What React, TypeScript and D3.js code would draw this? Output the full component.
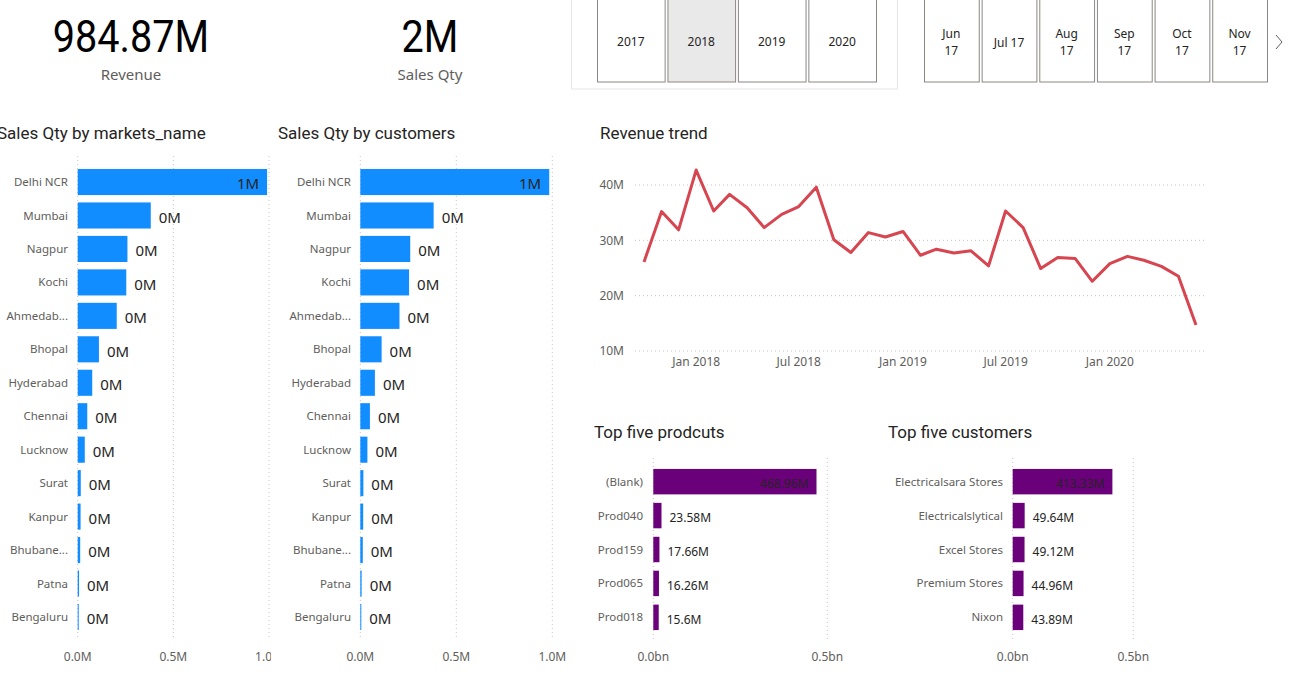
import * as d3 from "d3";

// ---- data ----
const totalRevenueM = 984.87;
const totalSalesQtyM = 2;

const years = ["2017", "2018", "2019", "2020"];
const selectedYear = "2018";
const monthSlicer = [["Jun", "17"], ["Jul 17"], ["Aug", "17"], ["Sep", "17"], ["Oct", "17"], ["Nov", "17"]];

const marketNames = [
  "Delhi NCR", "Mumbai", "Nagpur", "Kochi", "Ahmedab...", "Bhopal", "Hyderabad",
  "Chennai", "Lucknow", "Surat", "Kanpur", "Bhubane...", "Patna", "Bengaluru",
];
// sales qty, millions
const marketQty = [0.99, 0.382, 0.26, 0.254, 0.204, 0.111, 0.076, 0.05, 0.037, 0.016, 0.015, 0.013, 0.007, 0.005];
const customerChartQty = [0.984, 0.382, 0.26, 0.254, 0.204, 0.111, 0.076, 0.05, 0.037, 0.016, 0.015, 0.013, 0.007, 0.005];

const trendStart = new Date(2017, 9, 1);
// revenue per month from Oct 2017, millions
const monthlyRevenue = [
  26.1, 35.2, 31.9, 42.7, 35.3, 38.3, 35.9, 32.3, 34.7, 36.1, 39.6, 30.1, 27.8,
  31.4, 30.6, 31.6, 27.3, 28.4, 27.7, 28.1, 25.4, 35.3, 32.3, 24.9, 26.9, 26.7,
  22.6, 25.8, 27.1, 26.4, 25.3, 23.5, 14.7,
];
const revenueTicks = [10, 20, 30, 40];

const productNames = ["(Blank)", "Prod040", "Prod159", "Prod065", "Prod018"];
const productRevenue = [468.96, 23.58, 17.66, 16.26, 15.6];
const customerNames = ["Electricalsara Stores", "Electricalslytical", "Excel Stores", "Premium Stores", "Nixon"];
const customerRevenue = [413.33, 49.64, 49.12, 44.96, 43.89];

const LABEL_FONT = "'Segoe UI', 'Noto Sans', 'Open Sans', sans-serif";
const TITLE_FONT = "'DIN', Roboto, 'DejaVu Sans', sans-serif";
const KPI_FONT = "'DIN', Roboto, sans-serif";
const GREY = "#605E5C";
const DARK = "#252423";
const GRID = "#C8C6C4";

interface BarPanelProps {
  id: string;
  title: string;
  titleX: number;
  titleY: number;
  names: string[];
  values: number[];
  xStart: number;
  xEnd: number;
  maxValue: number;
  ticks: number[];
  tickFormat: (v: number) => string;
  valueFormat: (v: number) => string;
  color: string;
  bandTop: number;
  bandBottom: number;
  padding: number;
  gridTop: number;
  gridBottom: number;
  labelRight: number;
  valueFontSize: number;
  clipRight?: number;
}

function BarPanel(p: BarPanelProps) {
  const x = d3.scaleLinear().domain([0, p.maxValue]).range([p.xStart, p.xEnd]);
  const y = d3
    .scaleBand<string>()
    .domain(p.names)
    .range([p.bandTop, p.bandBottom])
    .paddingInner(p.padding)
    .paddingOuter(p.padding / 2);
  const clipId = `clip-${p.id}`;

  return (
    <g clipPath={p.clipRight ? `url(#${clipId})` : undefined}>
      {p.clipRight ? (
        <defs>
          <clipPath id={clipId}>
            <rect x={-20} y={100} width={p.clipRight + 20} height={600} />
          </clipPath>
        </defs>
      ) : null}
      <text x={p.titleX} y={p.titleY} fontFamily={TITLE_FONT} fontSize={17} fill={DARK}>
        {p.title}
      </text>
      {p.ticks.map((t) => (
        <g key={t}>
          <line
            x1={x(t)}
            x2={x(t)}
            y1={p.gridTop}
            y2={p.gridBottom}
            stroke={GRID}
            strokeDasharray="1,3"
          />
          <text x={x(t)} y={661} textAnchor="middle" fontFamily={LABEL_FONT} fontSize={12} fill={GREY}>
            {p.tickFormat(t)}
          </text>
        </g>
      ))}
      {p.names.map((name, i) => {
        const v = p.values[i];
        const y0 = y(name) ?? 0;
        const cy = y0 + y.bandwidth() / 2;
        const inside = v > p.maxValue * 0.8;
        return (
          <g key={name}>
            <text
              x={p.labelRight}
              y={cy}
              dy="0.35em"
              textAnchor="end"
              fontFamily={LABEL_FONT}
              fontSize={11.5}
              fill={GREY}
            >
              {name}
            </text>
            <rect x={x(0)} y={y0} width={Math.max(1, x(v) - x(0))} height={y.bandwidth()} fill={p.color} />
            <text
              x={inside ? x(v) - 8 : x(v) + 8}
              y={cy + 2}
              dy="0.35em"
              textAnchor={inside ? "end" : "start"}
              fontFamily={LABEL_FONT}
              fontSize={p.valueFontSize}
              fill={DARK}
            >
              {p.valueFormat(v)}
            </text>
          </g>
        );
      })}
    </g>
  );
}

function RevenueTrend() {
  const dates = monthlyRevenue.map((_, i) => d3.timeMonth.offset(trendStart, i));
  const x = d3.scaleTime().domain([dates[0], dates[dates.length - 1]]).range([644, 1196]);
  const y = d3.scaleLinear().domain([10, 40]).range([351, 185]);
  const line = d3
    .line<number>()
    .x((_, i) => x(dates[i]))
    .y((v) => y(v));
  const xTicks = d3.timeMonth.every(6)!.range(new Date(2018, 0, 1), dates[dates.length - 1]);
  const fmt = d3.timeFormat("%b %Y");

  return (
    <g>
      <text x={600} y={139} fontFamily={TITLE_FONT} fontSize={17} fill={DARK}>
        Revenue trend
      </text>
      {revenueTicks.map((t) => (
        <g key={t}>
          <line x1={635} x2={1205} y1={y(t)} y2={y(t)} stroke={GRID} strokeDasharray="1,3" />
          <text x={624} y={y(t)} dy="0.35em" textAnchor="end" fontFamily={LABEL_FONT} fontSize={12} fill={GREY}>
            {t}M
          </text>
        </g>
      ))}
      {xTicks.map((d) => (
        <text
          key={d.getTime()}
          x={x(d)}
          y={366}
          textAnchor="middle"
          fontFamily={LABEL_FONT}
          fontSize={12}
          fill={GREY}
        >
          {fmt(d)}
        </text>
      ))}
      <path d={line(monthlyRevenue) ?? undefined} fill="none" stroke="#D64550" strokeWidth={3} strokeLinejoin="round" />
    </g>
  );
}

function Slicers() {
  const yearX = d3.scaleBand<string>().domain(years).range([597, 876]).paddingInner(0.04);
  const monthKeys = monthSlicer.map((m) => m.join(" "));
  const monthX = d3.scaleBand<string>().domain(monthKeys).range([924, 1267]).paddingInner(0.05);
  return (
    <g fontFamily={LABEL_FONT} fontSize={12} fill={DARK}>
      <rect x={571.5} y={-2} width={326} height={91} fill="#fff" stroke="#E6E6E6" />
      {years.map((yr) => (
        <g key={yr}>
          <rect
            x={(yearX(yr) ?? 0) + 0.5}
            y={-1}
            width={yearX.bandwidth()}
            height={83}
            fill={yr === selectedYear ? "#E9E9E9" : "#fff"}
            stroke="#8A8886"
          />
          <text x={(yearX(yr) ?? 0) + yearX.bandwidth() / 2} y={42} dy="0.35em" textAnchor="middle" fill={DARK}>
            {yr}
          </text>
        </g>
      ))}
      {monthSlicer.map((lines, i) => {
        const key = monthKeys[i];
        const bx = monthX(key) ?? 0;
        const cx = bx + monthX.bandwidth() / 2;
        return (
          <g key={key}>
            <rect x={bx + 0.5} y={-1} width={monthX.bandwidth()} height={83} fill="#fff" stroke="#8A8886" />
            {lines.map((ln, j) => (
              <text
                key={ln}
                x={cx}
                y={42.5 + (j - (lines.length - 1) / 2) * 17}
                dy="0.35em"
                textAnchor="middle"
                fill={DARK}
              >
                {ln}
              </text>
            ))}
          </g>
        );
      })}
      <path d="M1276,35 L1282,42 L1276,49" fill="none" stroke="#605E5C" strokeWidth={1} />
    </g>
  );
}

export default function App() {
  const fmtM = (v: number) => `${Math.round(v)}M`;
  const fmtAxisM = (v: number) => `${v.toFixed(1)}M`;
  const fmtBn = (v: number) => `${(v / 1000).toFixed(1)}bn`;
  const fmtRev = (v: number) => `${d3.format(".2~f")(v)}M`;

  return (
    <svg
      width={1290}
      height={689}
      style={{ position: "absolute", left: 0, top: 0, background: "#fff" }}
    >
      <rect width={1290} height={689} fill="#fff" />
      {/* KPI cards */}
      <g transform="translate(131,52) scale(0.88,1)">
        <text textAnchor="middle" fontFamily={KPI_FONT} fontSize={45} fill="#000">
          {d3.format(".2f")(totalRevenueM)}M
        </text>
      </g>
      <text x={131} y={80} textAnchor="middle" fontFamily={LABEL_FONT} fontSize={15} fill={GREY}>
        Revenue
      </text>
      <g transform="translate(430,52) scale(0.88,1)">
        <text textAnchor="middle" fontFamily={KPI_FONT} fontSize={45} fill="#000">
          {totalSalesQtyM}M
        </text>
      </g>
      <text x={430} y={80} textAnchor="middle" fontFamily={LABEL_FONT} fontSize={15} fill={GREY}>
        Sales Qty
      </text>

      <Slicers />

      <BarPanel
        id="markets"
        title="Sales Qty by markets_name"
        titleX={-3}
        titleY={139}
        names={marketNames}
        values={marketQty}
        xStart={77.7}
        xEnd={269}
        maxValue={1}
        ticks={[0, 0.5, 1]}
        tickFormat={fmtAxisM}
        valueFormat={fmtM}
        color="#118DFF"
        bandTop={165.3}
        bandBottom={633.7}
        padding={0.22}
        gridTop={156}
        gridBottom={637}
        labelRight={68}
        valueFontSize={15}
        clipRight={271}
      />
      <BarPanel
        id="customers"
        title="Sales Qty by customers"
        titleX={278}
        titleY={139}
        names={marketNames}
        values={customerChartQty}
        xStart={360.3}
        xEnd={552.3}
        maxValue={1}
        ticks={[0, 0.5, 1]}
        tickFormat={fmtAxisM}
        valueFormat={fmtM}
        color="#118DFF"
        bandTop={165.3}
        bandBottom={633.7}
        padding={0.22}
        gridTop={156}
        gridBottom={637}
        labelRight={351}
        valueFontSize={15}
      />

      <RevenueTrend />

      <BarPanel
        id="products"
        title="Top five prodcuts"
        titleX={594}
        titleY={438}
        names={productNames}
        values={productRevenue}
        xStart={653.3}
        xEnd={827.3}
        maxValue={500}
        ticks={[0, 500]}
        tickFormat={fmtBn}
        valueFormat={fmtRev}
        color="#6B007B"
        bandTop={464.7}
        bandBottom={634.3}
        padding={0.25}
        gridTop={458}
        gridBottom={640}
        labelRight={643}
        valueFontSize={12}
      />
      <BarPanel
        id="topcustomers"
        title="Top five customers"
        titleX={888}
        titleY={438}
        names={customerNames}
        values={customerRevenue}
        xStart={1012.7}
        xEnd={1133.3}
        maxValue={500}
        ticks={[0, 500]}
        tickFormat={fmtBn}
        valueFormat={fmtRev}
        color="#6B007B"
        bandTop={464.7}
        bandBottom={634.3}
        padding={0.25}
        gridTop={458}
        gridBottom={640}
        labelRight={1003}
        valueFontSize={12}
      />
    </svg>
  );
}
